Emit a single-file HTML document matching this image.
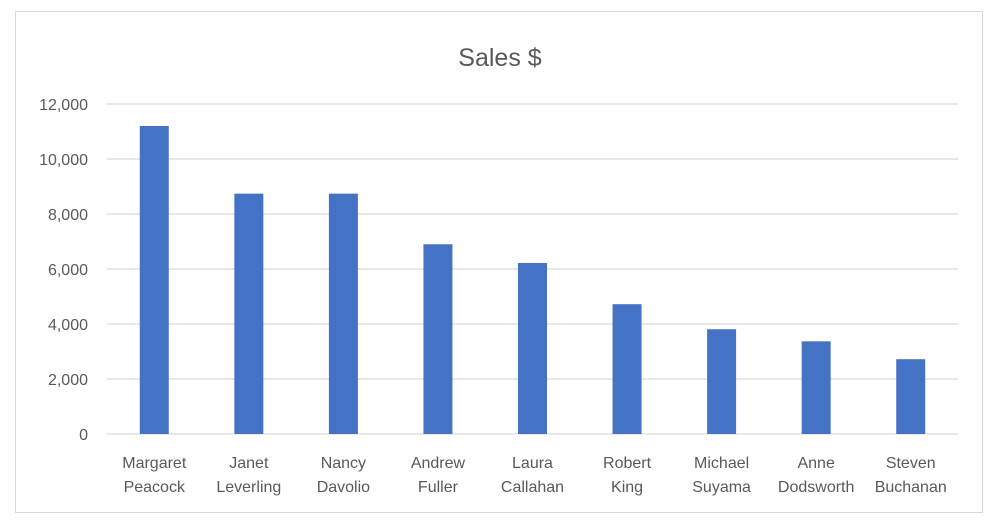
<!DOCTYPE html>
<html><head><meta charset="utf-8"><style>
body{margin:0;background:#fff;font-family:"Liberation Sans",sans-serif}
</style></head><body>
<svg width="1000" height="526">
<rect x="15.5" y="11.5" width="967" height="501" fill="#fff" stroke="#d9d9d9"/>
<text x="500" y="66" text-anchor="middle" font-size="25" fill="#595959" font-family="Liberation Sans, sans-serif">Sales $</text>
<g id="grid"></g><g id="bars"></g><g id="labels"></g>
</svg>
<script>
const categories=[["Margaret","Peacock"],["Janet","Leverling"],["Nancy","Davolio"],["Andrew","Fuller"],["Laura","Callahan"],["Robert","King"],["Michael","Suyama"],["Anne","Dodsworth"],["Steven","Buchanan"]];
const sales=[11200,8740,8740,6900,6220,4720,3810,3370,2720];
const yTicks=[0,2000,4000,6000,8000,10000,12000];
const tickLabels=["0","2,000","4,000","6,000","8,000","10,000","12,000"];
const NS="http://www.w3.org/2000/svg";
const x0=107,x1=958,yb=434,yt=104,ymax=12000;
const y=v=>yb-(v/ymax)*(yb-yt);
const band=(x1-x0)/categories.length;
const xc=i=>x0+band*(i+0.5);
const bw=29;
function mk(t,a){const e=document.createElementNS(NS,t);for(const k in a)e.setAttribute(k,a[k]);return e;}
const g=document.getElementById('grid'),b=document.getElementById('bars'),l=document.getElementById('labels');
yTicks.forEach((v,i)=>{
 const ln=mk('line',{x1:x0,x2:x1,y1:y(v),y2:y(v),stroke:'#d9d9d9','stroke-width':1.3});
 
 
 g.appendChild(ln);
 const t=mk('text',{x:88,y:y(v)+6,'text-anchor':'end','font-size':16,fill:'#595959'});
 
 
 t.textContent=tickLabels[i];g.appendChild(t);
});
sales.forEach((v,i)=>{
 const r=mk('rect',{x:xc(i)-bw/2,y:y(v),width:bw,height:yb-y(v),fill:'#4472c4'});
 
 
 b.appendChild(r);
 categories[i].forEach((s,j)=>{
  const t=mk('text',{x:xc(i),y:468+j*24,'text-anchor':'middle','font-size':16,fill:'#595959'});
  
  
  t.textContent=s;l.appendChild(t);
 });
});
</script>
</body></html>
